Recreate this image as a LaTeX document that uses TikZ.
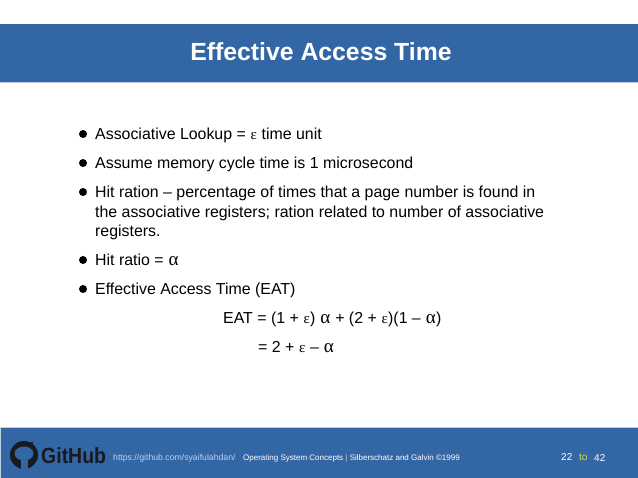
\documentclass[tikz,border=0pt]{standalone}
\usepackage{fontspec}
\setmainfont{Liberation Sans}
\newfontfamily\grk{Liberation Serif}
\newcommand{\eps}{{\grk\fontsize{15}{15}\selectfont\kern.3pt ε\kern.3pt}}
\newcommand{\alp}{{\grk\fontsize{19}{19}\selectfont\kern.5pt α\kern.5pt}}
\definecolor{barblue}{RGB}{51,102,165}
\definecolor{barline}{RGB}{190,208,230}
\definecolor{linktext}{RGB}{190,208,240}
\definecolor{totext}{RGB}{215,225,60}
\definecolor{catdark}{RGB}{24,26,32}
\tikzset{
  bodytext/.style={anchor=base west,inner sep=0pt,font=\fontsize{15.9}{20}\selectfont},
  dotmark/.style={circle,fill=black,inner sep=0pt,minimum size=8pt},
  foot/.style={anchor=base west,inner sep=0pt,text=white,font=\fontsize{8}{10}\selectfont},
  pagenum/.style={foot,font=\fontsize{10}{12}\selectfont},
}
\begin{document}
\begin{tikzpicture}[x=1pt,y=-1pt]
  \useasboundingbox (0,0) rectangle (638,478);
  % header and footer bars
  \fill[barline] (0,24) rectangle (638,83);
  \fill[barblue] (0,24.5) rectangle (637.5,82);
  \fill[barline] (0,427) rectangle (638,478);
  \fill[barblue] (0.5,428) rectangle (638,478);
  \node[anchor=base,inner sep=0pt,text=white,font=\bfseries\fontsize{24.8}{30}\selectfont] (title) at (321,61) {Effective Access Time};

  % bullet list
  \node[bodytext] (lookup) at (95,140) {Associative Lookup = \eps{} time unit};
  \node[bodytext] (cycle) at (95,169) {Assume memory cycle time is 1 microsecond};
  \node[bodytext] (ration) at (95,198) {Hit ration -- percentage of times that a page number is found in};
  \node[bodytext] (rationb) at (95,218) {the associative registers; ration related to number of associative};
  \node[bodytext] (rationc) at (95,237) {registers.};
  \node[bodytext] (ratio) at (95,266) {Hit ratio = \alp};
  \node[bodytext] (eat) at (95,295) {Effective Access Time (EAT)};
  \node[bodytext] (eqa) at (223,324) {EAT = (1 + \eps) \alp{} + (2 + \eps)(1 -- \alp)};
  \node[bodytext] (eqb) at (258,353) {= 2 + \eps{} -- \alp};
  \foreach \name/\ypos in {a/134,b/163,c/192,d/260,e/289}
    \node[dotmark] (dot\name) at (83,\ypos) {};

  % logo
  \fill[catdark] (24,455) circle (14);
  \fill[catdark] (15,441.5) -- (20,444) -- (28,444) -- (33,441.5) -- (32,448) -- cycle;
  \fill[barblue] (24,453.5) ellipse (9.5 and 7);
  \fill[barblue] (20.5,458) rectangle (27.5,470);
  \draw[catdark,line width=2pt,line cap=round] (13.5,461.5) .. controls (15,465) and (18,465.5) .. (20,465);
  \node[anchor=base west,inner sep=0pt,text=catdark,font=\bfseries\fontsize{22}{24}\selectfont] (logotext) at (41,464) {\scalebox{.885}[1]{GitHub}};

  % footer text
  \node[foot,text=linktext,font=\fontsize{8.7}{11}\selectfont] (link) at (113,461) {https://github.com/syaifulahdan/};
  \node[foot] (book) at (243,461) {Operating System Concepts \textcolor{linktext}{|} Silberschatz and Galvin ©1999};
  \node[pagenum] (pagea) at (561,461) {22};
  \node[pagenum,text=totext] (pageto) at (579,461) {to};
  \node[pagenum] (pageb) at (594,462) {42};
\end{tikzpicture}
\end{document}
